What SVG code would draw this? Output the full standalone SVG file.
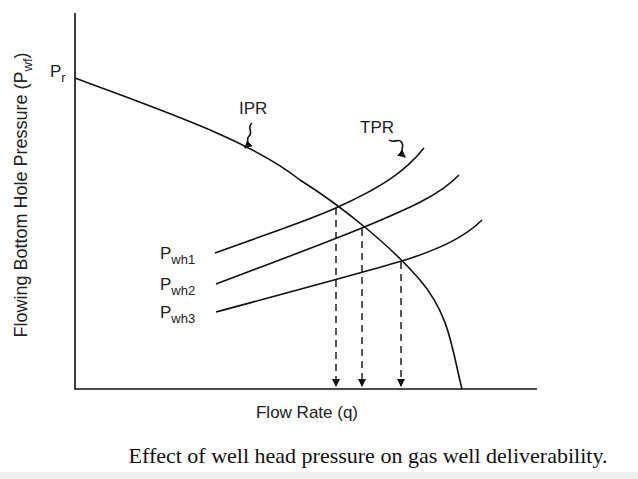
<svg xmlns="http://www.w3.org/2000/svg" width="638" height="479" viewBox="0 0 638 479">
<defs>
<style>
.ln{fill:none;stroke:#111;stroke-width:1.6}
.ds{fill:none;stroke:#111;stroke-width:1.4;stroke-dasharray:7,5}
.t{font-family:"Liberation Sans",Arial,sans-serif;font-size:17px;fill:#222}
.s{font-size:13px}
</style>
<marker id="ah" markerWidth="8" markerHeight="8" refX="7" refY="4" orient="auto" markerUnits="userSpaceOnUse"><path d="M0,0 L8,4 L0,8 Z" fill="#111"/></marker>
</defs>
<rect width="638" height="479" fill="#fff"/>
<rect y="472" width="638" height="7" fill="#eeeeee"/>
<g id="axes">
<path class="ln" d="M75,13 V389 H537"/>
</g>
<g id="connectors">
<path class="ln" d="M75,78 C160,110 250,140 300,180 C340,205 390,245 420,280 C450,315 452,350 462,389"/>
<path class="ln" d="M215,253 C270,233 310,220 338,207 C380,188 405,172 424,148"/>
<path class="ln" d="M216,284 C280,260 320,245 362,228 C410,208 440,195 459,175"/>
<path class="ln" d="M216,312 C290,292 350,276 402,261 C440,249 465,237 482,220"/>
<path class="ds" d="M336,208 V386" marker-end="url(#ah)"/>
<path class="ds" d="M362,229 V386" marker-end="url(#ah)"/>
<path class="ds" d="M401,262 V386" marker-end="url(#ah)"/>
<path class="ln" stroke-width="1.2" d="M252,123 c-6,5 2,9 -3,13 c-4,4 2,6 -4,12" marker-end="url(#ah)"/>
<path class="ln" stroke-width="1.2" d="M389,140 c5,4 10,-3 13,3 c3,4 -4,8 3,14" marker-end="url(#ah)"/>
</g>
<g id="labels">
<text class="t" x="50" y="77">P<tspan class="s" dy="5">r</tspan></text>
<text class="t" x="239" y="114">IPR</text>
<text class="t" x="360" y="133">TPR</text>
<text class="t" x="160" y="259">P<tspan class="s" dy="5">wh1</tspan></text>
<text class="t" x="160" y="290">P<tspan class="s" dy="5">wh2</tspan></text>
<text class="t" x="160" y="318">P<tspan class="s" dy="5">wh3</tspan></text>
<text class="t" x="307" y="418" text-anchor="middle">Flow Rate (q)</text>
<text class="t" style="font-size:18px" transform="translate(27,195) rotate(-90)" text-anchor="middle">Flowing Bottom Hole Pressure (P<tspan class="s" dy="5">wf</tspan><tspan dy="-5">)</tspan></text>
<text x="368" y="463" text-anchor="middle" style="font-family:'Liberation Serif','Times New Roman',serif;font-size:22px;fill:#111">Effect of well head pressure on gas well deliverability.</text>
</g>
</svg>
